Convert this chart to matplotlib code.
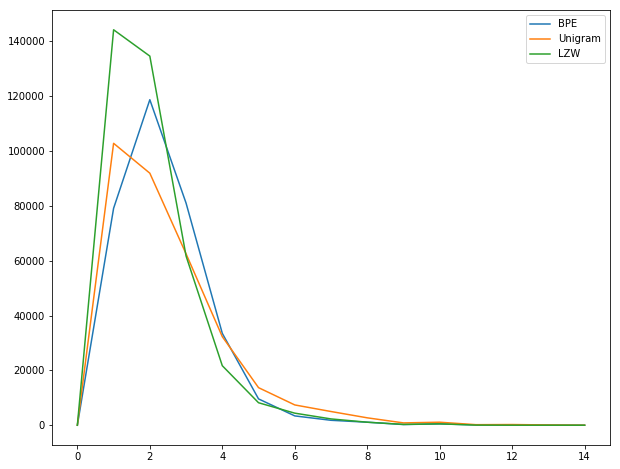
import matplotlib
matplotlib.use('Agg')
import matplotlib.pyplot as plt

lengths = list(range(15))
bpe = [0, 79100, 118700, 81000, 33500, 9600, 3400, 1800, 1100, 250, 500, 100, 50, 20, 0]
unigram = [0, 102800, 91900, 62500, 32300, 13700, 7400, 5000, 2700, 850, 1100, 200, 250, 100, 0]
lzw = [0, 144200, 134600, 61700, 21700, 8200, 4400, 2300, 1100, 300, 500, 50, 20, 10, 0]


def main():
    fig = plt.figure(figsize=(620 / 72, 469 / 72), dpi=72)
    ax = fig.add_axes([52 / 620, 1 - 445 / 469, 558 / 620, 435 / 469])
    ax.plot(lengths, bpe, label='BPE')
    ax.plot(lengths, unigram, label='Unigram')
    ax.plot(lengths, lzw, label='LZW')
    ax.legend()
    fig.savefig('out.png', dpi=72)


if __name__ == '__main__':
    main()
